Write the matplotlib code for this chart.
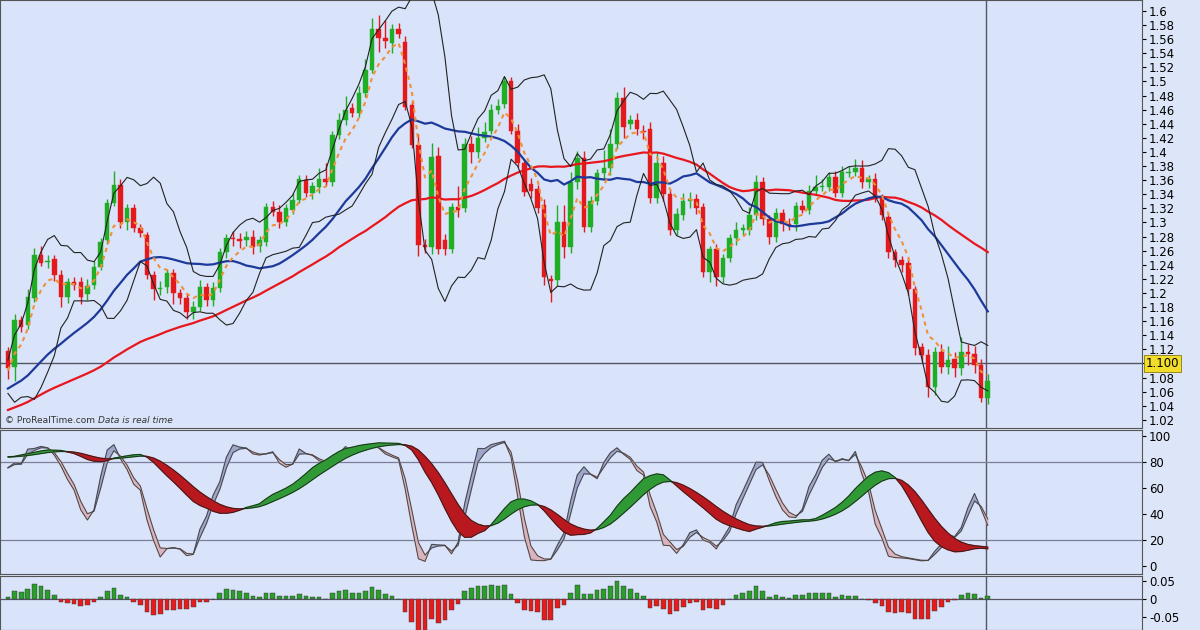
import numpy as np
import pandas as pd
import matplotlib
matplotlib.use("Agg")
import matplotlib.pyplot as plt

# ---- data ----
opens = [1.118,1.095,1.162,1.155,1.193,1.254,1.244,1.248,1.225,1.194,1.215,1.216,1.198,1.212,1.237,1.275,1.328,1.353,1.300,1.320,
         1.292,1.282,1.225,1.205,1.208,1.228,1.200,1.193,1.173,1.180,1.208,1.190,1.207,1.258,1.278,1.277,1.275,1.280,1.266,1.272,
         1.322,1.315,1.300,1.318,1.332,1.360,1.342,1.350,1.362,1.357,1.424,1.445,1.462,1.455,1.483,1.517,1.575,1.562,1.555,1.575,
         1.556,1.467,1.410,1.268,1.265,1.395,1.275,1.262,1.322,1.320,1.412,1.400,1.420,1.430,1.460,1.468,1.500,1.430,1.385,1.355,
         1.348,1.325,1.220,1.218,1.300,1.265,1.358,1.392,1.294,1.330,1.370,1.378,1.412,1.477,1.440,1.445,1.430,1.433,1.335,1.385,
         1.340,1.290,1.310,1.330,1.333,1.322,1.230,1.262,1.222,1.250,1.278,1.290,1.290,1.310,1.357,1.305,1.280,1.313,1.298,1.298,
         1.324,1.318,1.345,1.350,1.350,1.365,1.342,1.370,1.372,1.378,1.357,1.362,1.335,1.308,1.258,1.247,1.242,1.205,1.123,1.112,
         1.067,1.117,1.095,1.106,1.093,1.117,1.113,1.098,1.051]
closes = [1.093,1.162,1.152,1.195,1.254,1.243,1.246,1.225,1.195,1.215,1.212,1.195,1.210,1.237,1.272,1.328,1.353,1.300,1.320,1.292,
          1.285,1.225,1.205,1.207,1.228,1.200,1.193,1.173,1.180,1.208,1.190,1.207,1.258,1.278,1.276,1.274,1.280,1.265,1.275,1.322,
          1.315,1.300,1.320,1.332,1.362,1.342,1.352,1.362,1.358,1.424,1.445,1.460,1.455,1.483,1.517,1.575,1.562,1.557,1.575,1.567,
          1.464,1.410,1.268,1.265,1.393,1.263,1.262,1.322,1.318,1.412,1.400,1.420,1.428,1.460,1.465,1.500,1.430,1.385,1.343,1.345,
          1.320,1.222,1.217,1.300,1.265,1.357,1.392,1.294,1.330,1.370,1.378,1.412,1.477,1.435,1.445,1.432,1.428,1.335,1.385,1.340,
          1.290,1.312,1.330,1.333,1.320,1.230,1.262,1.222,1.250,1.278,1.290,1.290,1.310,1.357,1.305,1.280,1.313,1.298,1.296,1.323,
          1.318,1.345,1.350,1.352,1.365,1.342,1.372,1.372,1.378,1.357,1.362,1.335,1.310,1.258,1.247,1.240,1.205,1.122,1.112,1.067,
          1.117,1.095,1.105,1.093,1.117,1.113,1.098,1.051,1.075]
# wick lengths in thousandths
up_wick = [5,8,6,10,10,12,8,6,8,6,8,6,10,8,6,5,20,8,6,6,
           6,5,6,10,6,6,5,6,8,10,6,8,6,6,10,8,8,10,6,5,
           8,10,6,10,6,8,5,15,22,6,10,20,8,10,15,15,20,25,6,8,
           8,5,15,8,20,12,8,6,30,8,10,15,15,8,10,8,6,10,5,8,
           5,8,6,25,25,15,10,10,8,6,25,20,8,15,8,10,8,10,15,10,
           8,8,12,10,8,6,5,8,6,6,10,8,12,10,8,6,8,6,8,6,
           8,8,18,10,6,8,8,8,12,10,5,8,6,5,5,6,6,5,6,8,
           6,10,20,10,20,10,12,8,10]
dn_wick = [15,20,8,6,6,5,8,8,15,8,8,10,8,6,5,5,5,8,10,6,
           6,5,15,8,8,15,8,10,10,6,8,8,6,8,10,10,8,10,8,5,
           6,8,5,6,5,6,8,8,6,5,5,6,5,5,5,5,20,10,15,5,
           5,5,15,8,10,8,8,5,10,5,15,8,6,5,6,5,5,6,6,10,
           6,10,30,8,15,8,10,8,8,5,8,10,8,15,8,8,10,8,8,10,
           8,8,6,10,8,8,15,12,8,6,10,8,8,6,8,10,8,10,6,10,
           5,6,5,6,5,6,6,5,6,8,8,6,6,8,10,10,8,10,10,15,
           12,8,10,12,10,15,12,5,8]
# earlier closes (before the visible window) used to warm up the indicators
prior_closes = [0.975,0.980,0.972,0.985,0.990,0.982,0.995,1.000,0.992,1.005,1.010,1.002,0.998,1.012,1.018,1.010,1.022,1.015,1.025,1.030,
                1.020,1.028,1.035,1.025,1.032,1.040,1.030,1.038,1.045,1.035,1.042,1.050,1.040,1.048,1.055,1.045,1.052,1.060,1.050,1.058,
                1.062,1.055,1.065,1.070,1.060,1.072,1.080,1.075,1.090,1.110]
price_ticks = [round(1.02 + 0.02*k, 2) for k in range(30)]
stoch_ticks = [0, 20, 40, 60, 80, 100]
hist_ticks = [-0.05, 0, 0.05]
cursor_price = 1.100

# ---- indicators ----
o = np.array(opens); c = np.array(closes)
h = np.maximum(o, c) + np.array(up_wick)/1000
l = np.minimum(o, c) - np.array(dn_wick)/1000
pc = np.array(prior_closes)
allc = pd.Series(np.concatenate([pc, c]))
allh = pd.Series(np.concatenate([pc + 0.01, h]))
alll = pd.Series(np.concatenate([pc - 0.01, l]))
n0 = len(pc); n = len(c)
x = np.arange(n)

ema5 = allc.ewm(span=5, adjust=False).mean().values[n0:]
sma20 = allc.rolling(20, min_periods=1).mean().values[n0:]
sma50 = allc.rolling(50, min_periods=1).mean().values[n0:]
m8 = allc.rolling(8, min_periods=1).mean()
s8 = allc.rolling(8, min_periods=2).std().fillna(0)
bbu = (m8 + 1.5*s8).values[n0:]
bbl = (m8 - 1.5*s8).values[n0:]

def stoch(period, smooth):
    hh = allh.rolling(period, min_periods=1).max()
    ll = alll.rolling(period, min_periods=1).min()
    k = 100*(allc-ll)/(hh-ll)
    k = k.rolling(smooth, min_periods=1).mean()
    return k.values[n0:]
fk = stoch(8, 3)
fd = pd.Series(fk).ewm(span=2, adjust=False).mean().values
sk = pd.Series(stoch(30, 8)).ewm(span=3, adjust=False).mean().values
sd = pd.Series(sk).ewm(span=6, adjust=False).mean().values

# 3/10/16 oscillator histogram (exponential)
osc = allc.ewm(span=3, adjust=False).mean() - allc.ewm(span=10, adjust=False).mean()
sig = osc.ewm(span=16, adjust=False).mean()
hist = (osc - sig).values[n0:]

# ---- figure ----
W, H = 1200, 630
fig = plt.figure(figsize=(W/100, H/100), dpi=100)
fig.patch.set_facecolor("#dde5f8")
bg = "#d9e3f9"
axw = 1142/W
xl = (-1.2, 171.3)
ax1 = fig.add_axes([0, 1-428/H, axw, 428/H])
ax2 = fig.add_axes([0, 1-574/H, axw, 144/H])
ax3 = fig.add_axes([0, 0, axw, 54/H])
for a in (ax1, ax2, ax3):
    a.set_facecolor(bg)
    a.set_xlim(*xl)
    a.yaxis.tick_right()
    a.set_xticks([])
    a.tick_params(axis='y', labelsize=8.5, length=3, pad=2, colors='black')
    for s in a.spines.values():
        s.set_color('#555555'); s.set_linewidth(0.8)
    a.axvline(147.7, color='#555566', lw=1.0, zorder=1)

# price panel
ax1.set_ylim(1.0085, 1.6156)
ax1.set_yticks(price_ticks)
ax1.set_yticklabels(["" if abs(t-cursor_price) < 1e-9 else f"{t:g}" for t in price_ticks])
ax1.axhline(cursor_price, color='#555566', lw=1.0, zorder=1)
green, red = "#1fae24", "#e3191c"
for i in x:
    col = green if c[i] >= o[i] else red
    ax1.vlines(i, l[i], h[i], color=col, lw=1.0, zorder=3)
    b0, b1 = min(o[i], c[i]), max(o[i], c[i])
    ax1.bar(i, max(b1-b0, 0.002), bottom=b0, width=0.68, color=col, edgecolor=col, lw=0.3, zorder=4)
ax1.plot(x, sma50, color="#e8161d", lw=1.6, zorder=5)
ax1.plot(x, sma20, color="#1d3a9a", lw=1.6, zorder=5)
ax1.plot(x, bbu, color="#222222", lw=0.8, zorder=5)
ax1.plot(x, bbl, color="#222222", lw=0.8, zorder=5)
ax1.plot(x, ema5, color="#f0903a", lw=1.5, ls=(0, (2, 2)), zorder=6)
ax1.text(0.004, 0.008, "© ProRealTime.com", transform=ax1.transAxes, fontsize=6.5, color="#333333", va='bottom')
ax1.text(0.086, 0.008, "Data is real time", transform=ax1.transAxes, fontsize=6.5, style='italic', color="#333333", va='bottom')
ax1.text(1.003, (cursor_price-1.0085)/(1.6156-1.0085), "1.100", transform=ax1.transAxes,
         fontsize=8.5, va='center', ha='left',
         bbox=dict(boxstyle='square,pad=0.15', fc='#f2dd2a', ec='#8a7a10', lw=0.6))

# stochastic panel
ax2.set_ylim(-6.2, 104.6)
ax2.set_yticks(stoch_ticks)
for v in (20, 80):
    ax2.axhline(v, color='#7a7f99', lw=0.9, zorder=1)
ax2.fill_between(x, fk, fd, where=fk >= fd, color="#9ea6cc", interpolate=True, zorder=2)
ax2.fill_between(x, fk, fd, where=fk < fd, color="#d9b3bd", interpolate=True, zorder=2)
ax2.plot(x, fk, color="#444444", lw=0.7, zorder=3)
ax2.plot(x, fd, color="#444444", lw=0.7, zorder=3)
ax2.fill_between(x, sk, sd, where=sk >= sd, color="#2f9a35", interpolate=True, zorder=4)
ax2.fill_between(x, sk, sd, where=sk < sd, color="#b8181e", interpolate=True, zorder=4)
ax2.plot(x, sk, color="#222222", lw=0.6, zorder=5)
ax2.plot(x, sd, color="#222222", lw=0.6, zorder=5)

# histogram panel
ax3.set_ylim(-0.0861, 0.0639)
ax3.set_yticks(hist_ticks)
ax3.set_yticklabels(["-0.05", "0", "0.05"])
ax3.axhline(0, color='#555566', lw=0.9, zorder=1)
hc = np.where(hist >= 0, "#2a9d2a", "#e51c1c")
ax3.bar(x, hist, width=0.7, color=hc, edgecolor='#333333', lw=0.3, zorder=3)

fig.savefig("out.png", dpi=100, facecolor=fig.get_facecolor())
